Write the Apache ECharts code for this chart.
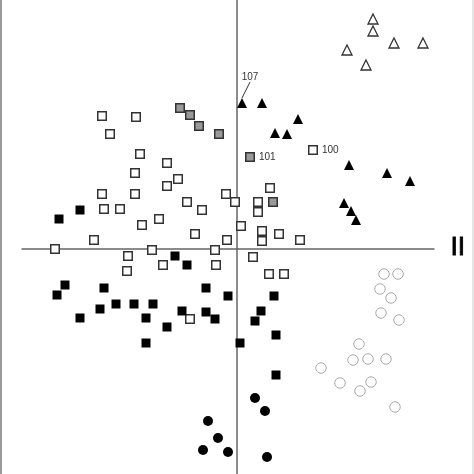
<!DOCTYPE html>
<html>
<head>
<meta charset="utf-8">
<script src="https://cdn.jsdelivr.net/npm/echarts@6/dist/echarts.min.js"></script>
<style>
  html, body { margin: 0; padding: 0; background: #fff; }
  #chart { width: 474px; height: 474px; }
</style>
</head>
<body>
<div id="chart"></div>
<script>
// point groups, [x, y, label?]
const openSquares = [
  [-135, 133], [-101, 132], [-127, 115], [-97, 95], [-70, 86], [-102, 76],
  [-59, 70], [-70, 63], [-135, 55], [-102, 55], [-11, 55], [-2, 47],
  [-50, 47], [-35, 39], [-133, 40], [-117, 40], [-95, 24], [-78, 30],
  [-42, 15], [-10, 9], [-143, 9], [4, 23], [33, 61], [21, 47],
  [21, 37], [25, 18], [25, 8], [42, 15], [63, 9], [-182, 0],
  [-85, -1], [-22, -1], [-109, -7], [-110, -22], [-74, -16], [-21, -16],
  [16, -8], [32, -25], [47, -25], [-47, -70], [76, 99, '100']
];
const graySquares = [
  [-57, 141], [-47, 134], [-38, 123], [-18, 115], [36, 47], [13, 92, '101']
];
const blackSquares = [
  [-178, 30], [-157, 39], [-172, -36], [-180, -46], [-133, -39], [-137, -60],
  [-157, -69], [-121, -55], [-103, -55], [-84, -55], [-91, -69], [-91, -94],
  [-62, -7], [-50, -16], [-31, -39], [-9, -47], [-55, -62], [-31, -63],
  [-22, -70], [-70, -78], [37, -47], [24, -62], [18, -72], [39, -86],
  [3, -94], [39, -126]
];
const blackCircles = [
  [-29, -172], [-19, -189], [-34, -201], [-9, -203], [18, -149], [28, -162], [30, -208]
];
const openCircles = [
  [147, -25], [161, -25], [143, -40], [154, -49], [144, -64], [162, -71],
  [122, -95], [116, -111], [131, -110], [149, -110], [84, -119], [103, -134],
  [134, -133], [123, -142], [158, -158]
];
const blackTriangles = [
  [5, 146, '107'], [25, 146], [61, 130], [38, 116], [50, 115], [112, 84],
  [150, 76], [173, 68], [107, 46], [114, 38], [119, 29]
];
const openTriangles = [
  [136, 230], [136, 218], [157, 206], [186, 206], [110, 199], [129, 184]
];
const axisName = 'II';

const chart = echarts.init(document.getElementById('chart'), null, { renderer: 'canvas' });

function toItems(arr) {
  return arr.map(p => {
    if (p[2] === undefined) return [p[0], p[1]];
    return {
      value: [p[0], p[1]],
      name: p[2],
      label: {
        show: true,
        formatter: p[2],
        position: p[2] === '107' ? 'top' : 'right',
        distance: 4,
        fontSize: 10,
        color: '#333',
        fontFamily: 'Liberation Sans'
      },
      labelLine: { show: p[2] === '107', lineStyle: { color: '#333', width: 1 } }
    };
  });
}

function scatter(data, symbol, size, fill, border, bw) {
  return {
    type: 'scatter',
    symbol: symbol,
    symbolSize: size,
    data: toItems(data),
    silent: true,
    itemStyle: { color: fill, borderColor: border, borderWidth: bw, opacity: 1 },
    labelLayout: function (params) {
      if (params.text === '107') return { dx: 8, dy: -12 };
      return {};
    }
  };
}

chart.setOption({
  animation: false,
  grid: { left: 22, right: 40, top: 0, bottom: 0 },
  xAxis: {
    type: 'value', min: -215, max: 197,
    axisLine: { onZero: true, lineStyle: { color: '#666', width: 1.5 } },
    axisTick: { show: false }, axisLabel: { show: false }, splitLine: { show: false }
  },
  yAxis: {
    type: 'value', min: -225, max: 249,
    axisLine: { onZero: true, lineStyle: { color: '#666', width: 1.5 } },
    axisTick: { show: false }, axisLabel: { show: false }, splitLine: { show: false }
  },
  graphic: [
    { type: 'line', shape: { x1: 1, y1: 0, x2: 1, y2: 474 }, style: { stroke: '#999', lineWidth: 2 } },
    { type: 'line', shape: { x1: 473, y1: 0, x2: 473, y2: 474 }, style: { stroke: '#ccc', lineWidth: 1 } },
    { type: 'text', left: 450, top: 236,
      style: { text: axisName, fontSize: 25, fill: '#000', stroke: '#000', lineWidth: 0.8, fontFamily: 'DejaVu Sans' } }
  ],
  series: [
    scatter(openCircles, 'circle', 10.5, '#fff', '#aaa', 1),
    scatter(openSquares, 'rect', 8.5, '#fff', '#333', 1.5),
    scatter(graySquares, 'rect', 8.5, '#999', '#333', 1.5),
    scatter(blackSquares, 'rect', 9, '#000', '#000', 0),
    scatter(blackCircles, 'circle', 10, '#000', '#000', 0),
    scatter(blackTriangles, 'triangle', 10, '#000', '#000', 0),
    scatter(openTriangles, 'triangle', 10, '#fff', '#333', 1.3)
  ]
});
</script>
</body>
</html>
